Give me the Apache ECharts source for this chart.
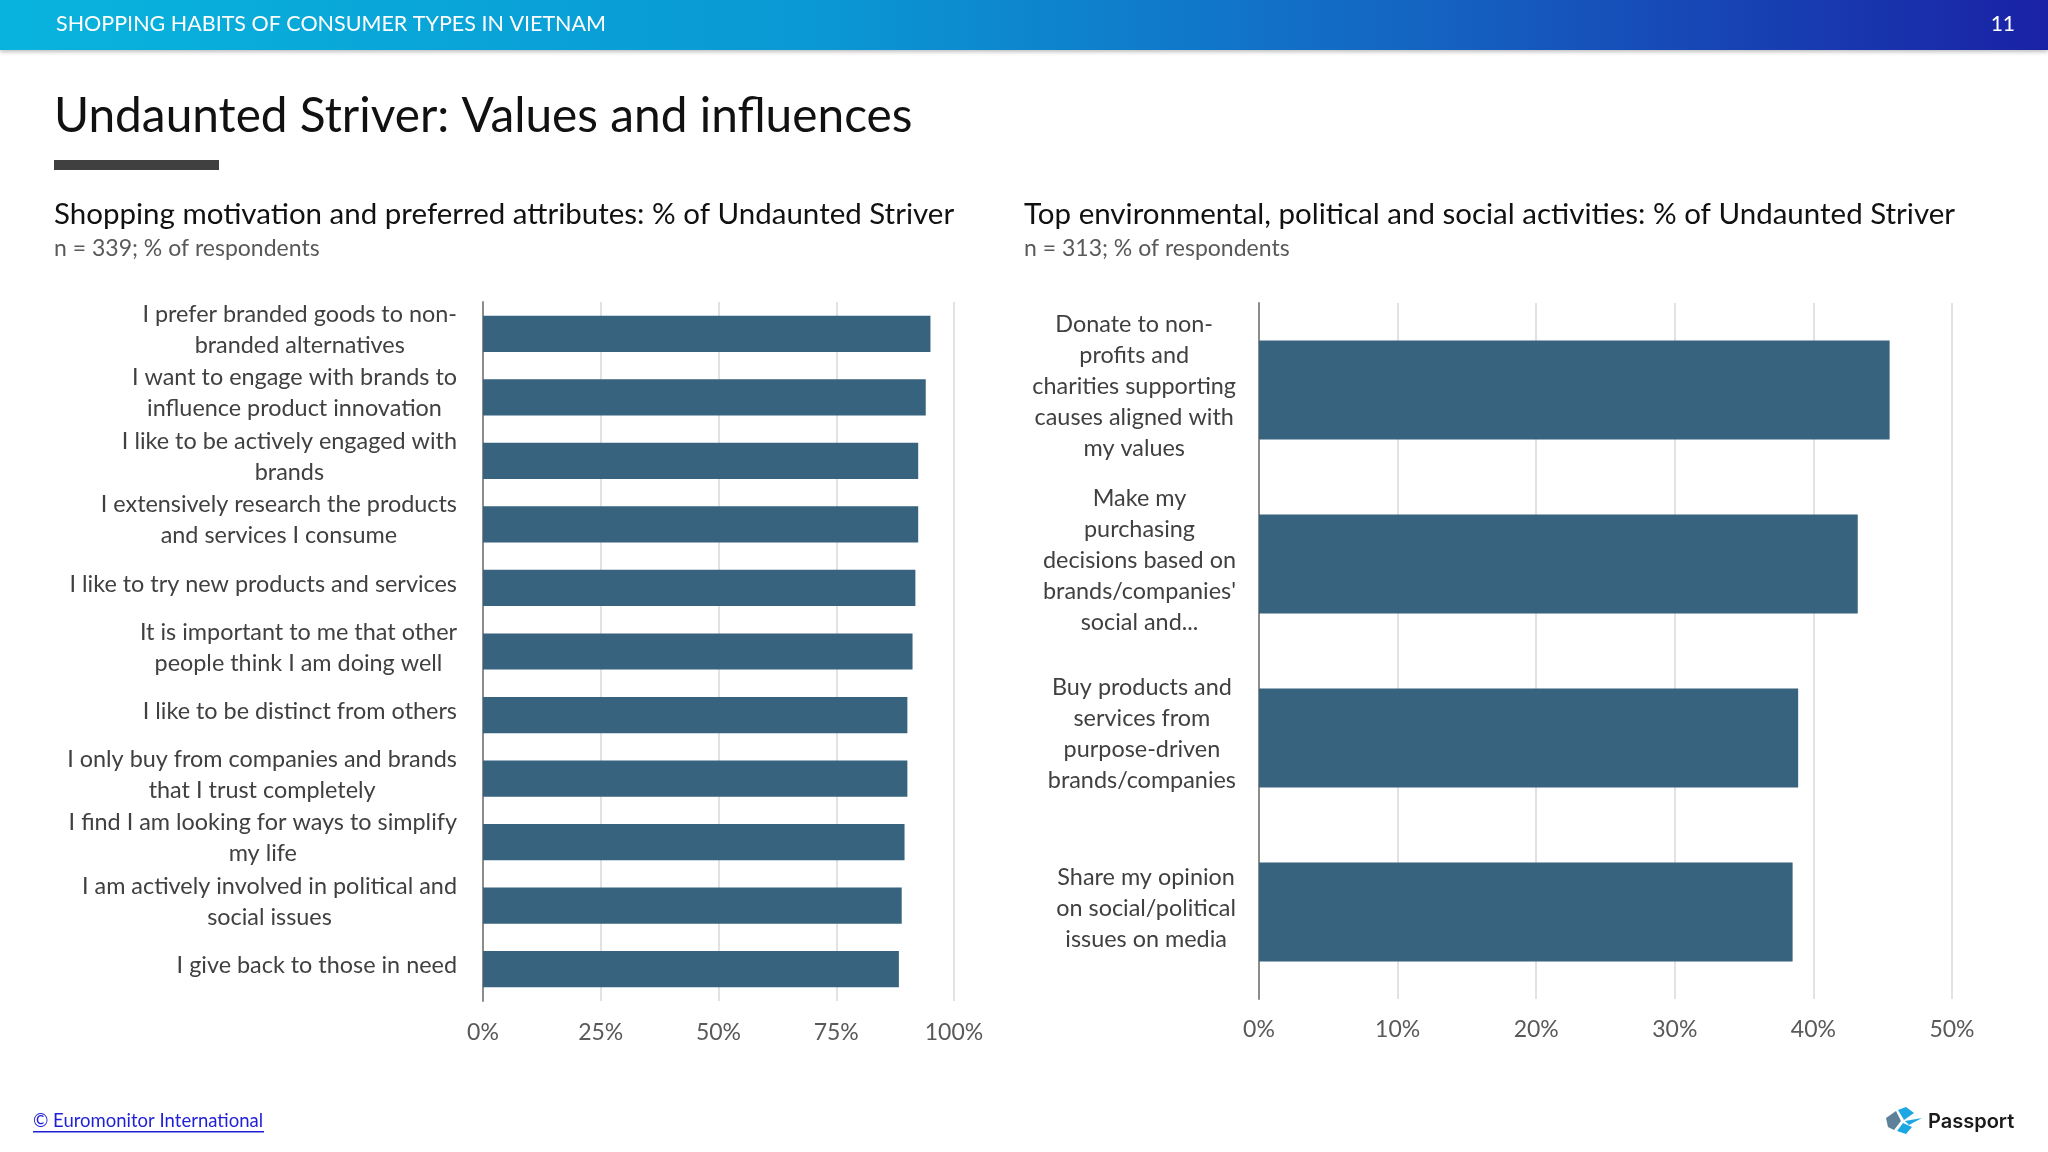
<!DOCTYPE html>
<html>
<head>
<meta charset="utf-8">
<title>Undaunted Striver: Values and influences</title>
<script src="https://cdn.jsdelivr.net/npm/echarts@6/dist/echarts.min.js"></script>
<style>
  html, body { margin: 0; padding: 0; background: #fff; }
  #chart { width: 2048px; height: 1152px; }
</style>
</head>
<body>
<div id="chart"></div>
<script>
// left chart: shopping motivation, % of respondents
const motivationLabels = [
  "I prefer branded goods to non-\nbranded alternatives",
  "I want to engage with brands to\ninfluence product innovation",
  "I like to be actively engaged with\nbrands",
  "I extensively research the products\nand services I consume",
  "I like to try new products and services",
  "It is important to me that other\npeople think I am doing well",
  "I like to be distinct from others",
  "I only buy from companies and brands\nthat I trust completely",
  "I find I am looking for ways to simplify\nmy life",
  "I am actively involved in political and\nsocial issues",
  "I give back to those in need"
];
const motivationValues = [95.0, 94.0, 92.4, 92.4, 91.8, 91.2, 90.1, 90.1, 89.5, 88.9, 88.3];
const motivationTicks = [0, 25, 50, 75, 100];

// right chart: environmental, political and social activities
const activityLabels = [
  "Donate to non-\nprofits and\ncharities supporting\ncauses aligned with\nmy values",
  "Make my\npurchasing\ndecisions based on\nbrands/companies'\nsocial and...",
  "Buy products and\nservices from\npurpose-driven\nbrands/companies",
  "Share my opinion\non social/political\nissues on media"
];
const activityValues = [45.5, 43.2, 38.9, 38.5];
const activityTicks = [0, 10, 20, 30, 40, 50];

const FONT = "Lato, 'Noto Sans', sans-serif";
const BAR = "#37637E";

// every line centred inside its own label block
function centredLines(v) {
  return v.split("\n").map(s => "{c|" + s + "}").join("\n");
}

function catAxis(idx, labels, margin) {
  return {
    type: "category",
    gridIndex: idx,
    inverse: true,
    data: labels,
    axisTick: { show: false },
    axisLine: { show: true, lineStyle: { color: "#8c8c8c", width: 2 } },
    axisLabel: {
      align: "right",
      margin: margin,
      padding: [0, 0, 8, 0],
      formatter: centredLines,
      rich: {
        c: { align: "center", fontFamily: FONT, fontSize: 23.4, lineHeight: 31, color: "#404040" }
      }
    }
  };
}

function valAxis(idx, ticks, margin) {
  return {
    type: "value",
    gridIndex: idx,
    min: ticks[0],
    max: ticks[ticks.length - 1],
    interval: ticks[1] - ticks[0],
    axisLine: { show: false },
    axisTick: { show: false },
    splitLine: { show: true, lineStyle: { color: "#d9d9d9", width: 1.5 } },
    axisLabel: {
      margin: margin,
      fontFamily: FONT,
      fontSize: 23,
      color: "#595959",
      formatter: "{value}%"
    }
  };
}

const myChart = echarts.init(document.getElementById("chart"));

const option = {
  backgroundColor: "#ffffff",
  animation: false,
  grid: [
    { left: 483, top: 302, width: 471, height: 699 },
    { left: 1259, top: 303, width: 693, height: 696 }
  ],
  xAxis: [valAxis(0, motivationTicks, 20), valAxis(1, activityTicks, 19)],
  yAxis: [catAxis(0, motivationLabels, 26), catAxis(1, activityLabels, 23)],
  series: [
    {
      type: "bar",
      xAxisIndex: 0,
      yAxisIndex: 0,
      data: motivationValues,
      barCategoryGap: "43%",
      itemStyle: { color: BAR }
    },
    {
      type: "bar",
      xAxisIndex: 1,
      yAxisIndex: 1,
      data: activityValues,
      barCategoryGap: "43%",
      itemStyle: { color: BAR }
    }
  ],
  graphic: [
    // header band
    {
      type: "rect",
      shape: { x: 0, y: 0, width: 2048, height: 50 },
      style: {
        fill: new echarts.graphic.LinearGradient(0, 0, 1, 0, [
          { offset: 0, color: "#08B4DD" },
          { offset: 0.4, color: "#0A98D4" },
          { offset: 0.7, color: "#1463C2" },
          { offset: 1, color: "#1A22A5" }
        ]),
        shadowBlur: 4,
        shadowOffsetY: 2,
        shadowColor: "rgba(0,0,0,0.25)"
      }
    },
    {
      type: "text",
      x: 56, y: 24,
      style: { text: "SHOPPING HABITS OF CONSUMER TYPES IN VIETNAM", fill: "#ffffff", font: "21.5px " + FONT, verticalAlign: "middle" }
    },
    {
      type: "text",
      x: 2015, y: 24,
      style: { text: "11", fill: "#ffffff", font: "21px " + FONT, align: "right", verticalAlign: "middle" }
    },
    // page title
    {
      type: "text",
      x: 54, y: 117,
      style: { text: "Undaunted Striver: Values and influences", fill: "#111111", font: "47.8px " + FONT, verticalAlign: "middle" }
    },
    {
      type: "rect",
      shape: { x: 54, y: 160, width: 165, height: 10 },
      style: { fill: "#404040" }
    },
    // chart headings
    {
      type: "text",
      x: 54, y: 214,
      style: { text: "Shopping motivation and preferred attributes: % of Undaunted Striver", fill: "#111111", font: "29.5px " + FONT, verticalAlign: "middle" }
    },
    {
      type: "text",
      x: 54, y: 249,
      style: { text: "n = 339; % of respondents", fill: "#595959", font: "23px " + FONT, verticalAlign: "middle" }
    },
    {
      type: "text",
      x: 1024, y: 214,
      style: { text: "Top environmental, political and social activities: % of Undaunted Striver", fill: "#111111", font: "29.5px " + FONT, verticalAlign: "middle" }
    },
    {
      type: "text",
      x: 1024, y: 249,
      style: { text: "n = 313; % of respondents", fill: "#595959", font: "23px " + FONT, verticalAlign: "middle" }
    },
    // footer
    {
      type: "text",
      x: 33, y: 1121,
      style: { text: "\u00A9 Euromonitor International", fill: "#1f1fd6", font: "18.5px " + FONT, verticalAlign: "middle" }
    },
    {
      type: "rect",
      shape: { x: 33, y: 1131, width: 231, height: 1.5 },
      style: { fill: "#1f1fd6" }
    },
    // passport logo
    {
      type: "group",
      children: [
        { type: "polygon", shape: { points: [[1886, 1118], [1896, 1111], [1901, 1121], [1894, 1130], [1888, 1127]] }, style: { fill: "#5f8099" } },
        { type: "polygon", shape: { points: [[1898, 1110], [1906, 1107], [1914, 1113], [1904, 1120]] }, style: { fill: "#1ca6e2" } },
        { type: "polygon", shape: { points: [[1905, 1121], [1922, 1118], [1909, 1125]] }, style: { fill: "#1ca6e2" } },
        { type: "polygon", shape: { points: [[1897, 1131], [1903, 1123], [1912, 1127], [1906, 1134]] }, style: { fill: "#1ca6e2" } }
      ]
    },
    {
      type: "text",
      x: 1928, y: 1122,
      style: { text: "Passport", fill: "#1a1a1a", font: "600 20px Inter, Lato, sans-serif", verticalAlign: "middle" }
    }
  ]
};

myChart.setOption(option);
</script>
</body>
</html>
